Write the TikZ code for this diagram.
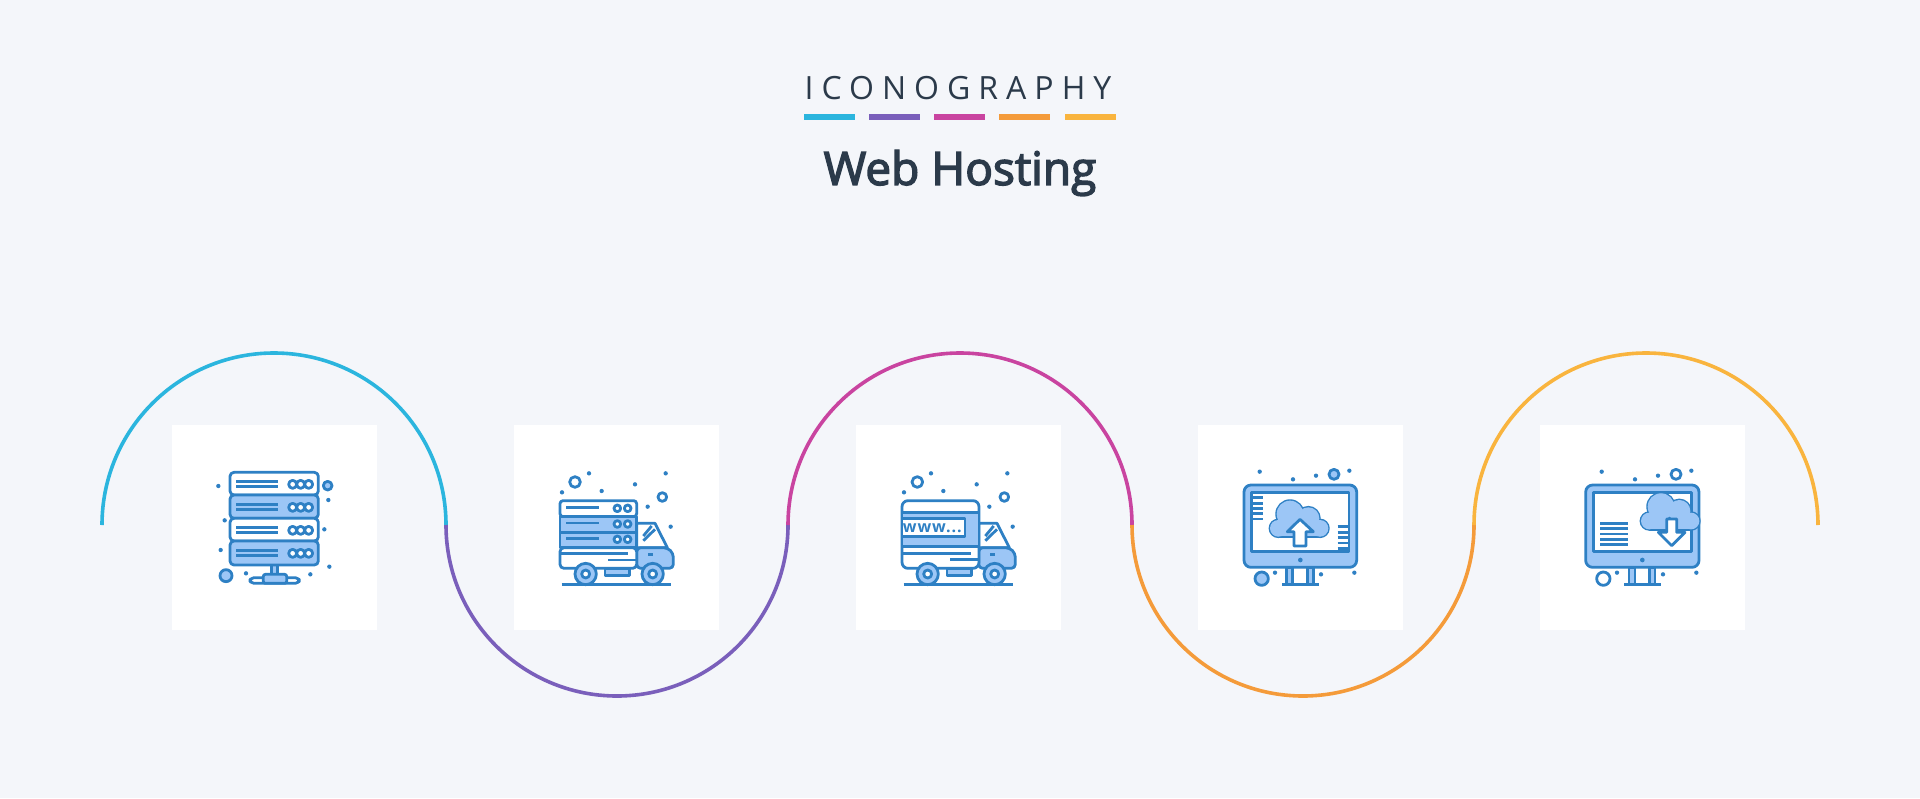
\documentclass[tikz,border=0pt]{standalone}
\usepackage{fontspec}
\setmainfont{Open Sans}
\definecolor{pagebg}{HTML}{F4F6FA}
\definecolor{inkdark}{HTML}{2B3A4A}
\definecolor{iconline}{HTML}{2E80C4}
\definecolor{iconfill}{HTML}{9CC6F6}
\definecolor{stepa}{HTML}{2BB5DE}
\definecolor{stepb}{HTML}{7A5FBB}
\definecolor{stepc}{HTML}{C944A0}
\definecolor{stepd}{HTML}{F49B3A}
\definecolor{stepe}{HTML}{F9B43E}
\tikzset{
  card/.style={fill=white},
  wave/.style={line width=3.6pt},
  stroke/.style={draw=iconline,line width=2.8pt,line join=round},
  blue/.style={stroke,fill=iconfill},
  plain/.style={stroke,fill=white},
  icon/.style={scale=1/3},
}
% dots of one icon: radius in zoomed units
\newcommand{\specks}[1]{\foreach \x/\y in {#1} \fill[iconline] (\x,\y) circle (6.5);}
\newcommand{\truckcab}{
  \draw[plain] (290,220) -- (345,220) -- (382,293) -- (290,293) -- cycle;
  \draw[blue,rounded corners=4pt] (290,293) -- (382,293) -- (400,310) -- (400,355) -- (290,355) -- cycle;
  \draw[stroke] (310,258) -- (335,228);
  \draw[stroke] (310,272) -- (345,238);
  \draw[stroke] (325,313) -- (340,313);
  \draw[blue] (195,355) rectangle (268,377);
  \draw[stroke] (65,403) -- (393,403);
}
\newcommand{\truckwheels}[1]{
  \foreach \x in {#1} {
    \draw[blue] (\x,372) circle (32);
    \draw[plain] (\x,372) circle (12);
  }
}
\newcommand{\cloudshape}{
  \foreach \x/\y/\r in {175/235/25,210/192/40,265/205/33,300/235/25}
    \draw[blue] (\x,\y) circle (\r);
  \draw[blue] (175,235) rectangle (300,260);
  \foreach \x/\y/\r in {175/235/25,210/192/40,265/205/33,300/235/25}
    \fill[iconfill] (\x,\y) circle (\r);
  \fill[iconfill] (175,225) rectangle (300,258);
}
\begin{document}
\begin{tikzpicture}[x=1pt,y=-1pt]
  \useasboundingbox (0,0) rectangle (1920,798);
  \fill[pagebg] (0,0) rectangle (1920,798);
  % heading
  \node[text=inkdark,font=\fontsize{32}{32}\selectfont\addfontfeature{LetterSpace=25}] (kicker) at (958,88) {ICONOGRAPHY};
  \node[text=inkdark,font=\fontsize{46}{46}\selectfont\addfontfeature{FakeBold=3}] (title) at (960,173) {Web Hosting};
  \foreach \x/\c in {804/stepa,869/stepb,934/stepc,999/stepd,1065/stepe}
    \fill[\c] (\x,114) rectangle ++(51,6);
  % waves
  \coordinate (W0) at (102,525);
  \coordinate (W1) at (446,525);
  \coordinate (W2) at (788,525);
  \coordinate (W3) at (1132,525);
  \coordinate (W4) at (1474,525);
  \draw[wave,stepa] (W0) arc[start angle=180,end angle=360,radius=172];
  \draw[wave,stepb] (W1) arc[start angle=180,end angle=0,radius=171];
  \draw[wave,stepc] (W2) arc[start angle=180,end angle=360,radius=172];
  \draw[wave,stepd] (W3) arc[start angle=180,end angle=0,radius=171];
  \draw[wave,stepe] (W4) arc[start angle=180,end angle=360,radius=172];
  % cards
  \foreach \x in {172,514,856,1198,1540}
    \fill[card] (\x,425) rectangle ++(205,205);
  % server rack
  \begin{scope}[shift={(190,440)},icon]
    \draw[blue] (245,372) rectangle (262,403);
    \draw[plain,rounded corners=4pt] (180,413) rectangle (328,430);
    \draw[blue,rounded corners=2pt] (220,403) rectangle (290,430);
    \draw[plain,rounded corners=4pt] (120,97) rectangle (385,165);
    \draw[blue,rounded corners=4pt] (120,165) rectangle (385,235);
    \draw[plain,rounded corners=4pt] (120,235) rectangle (385,303);
    \draw[blue,rounded corners=4pt] (120,303) rectangle (385,375);
    \foreach \y in {133,202,271,340} {
      \draw[stroke] (138,\y-8) -- (263,\y-8);
      \draw[stroke] (138,\y+7) -- (263,\y+7);
      \foreach \x in {308,332,356}
        \draw[plain] (\x,\y) circle (12);
    }
    \draw[blue] (413,137) circle (13);
    \draw[blue] (108,407) circle (18);
    \specks{85/138,415/180,104/241,403/268,92/330,418/380,168/400,361/403}
  \end{scope}
  % truck with rack
  \begin{scope}[shift={(540,450)},icon]
    \truckcab
    \draw[plain,rounded corners=4pt] (60,293) rectangle (290,355);
    \draw[plain,rounded corners=3pt] (60,152) rectangle (290,200);
    \draw[blue] (60,200) rectangle (290,247);
    \draw[blue] (60,247) rectangle (290,293);
    \foreach \y in {175,222,268} {
      \draw[stroke] (78,\y-3) -- (178,\y-3);
      \foreach \x in {232,263}
        \draw[plain] (\x,\y) circle (10);
    }
    \draw[stroke] (62,310) -- (265,310);
    \draw[stroke] (205,330) -- (288,330);
    \truckwheels{137,338}
    \draw[stroke] (105,96) circle (16);
    \draw[stroke] (367,141) circle (13);
    \specks{147/70,377/70,66/127,185/123,285/103,323/170,392/230}
  \end{scope}
  % truck with address
  \begin{scope}[shift={(880,450)},icon]
    \begin{scope}[shift={(6,0)}]
      \truckcab
    \end{scope}
    \draw[plain,rounded corners=6pt] (66,152) -- (297,152) -- (297,355) -- (66,355) -- cycle;
    \draw[blue] (66,187) rectangle (297,290);
    \draw[plain] (66,205) rectangle (255,260);
    \node[text=iconline,font=\fontsize{16}{16}\selectfont\bfseries\addfontfeature{LetterSpace=6}] (www) at (157,236) {www...};
    \draw[stroke] (68,310) -- (272,310);
    \draw[stroke] (210,328) -- (295,328);
    \truckwheels{143,344}
    \draw[stroke] (112,96) circle (16);
    \draw[stroke] (373,141) circle (13);
    \specks{153/70,382/70,72/127,190/123,290/103,328/170,398/230}
  \end{scope}
  % monitor, cloud upload
  \begin{scope}[shift={(1220,450)},icon]
    \draw[blue] (200,352) rectangle (218,403);
    \draw[blue] (262,352) rectangle (280,403);
    \draw[stroke] (187,403) -- (297,403);
    \draw[blue,rounded corners=7pt] (72,105) rectangle (410,352);
    \draw[plain] (95,128) rectangle (387,305);
    \fill[iconline] (241,330) circle (7);
    \foreach \y in {143,160,176,191,207}
      \draw[stroke] (95,\y) -- (128,\y);
    \foreach \y in {230,247,263,279,295}
      \draw[stroke] (353,\y) -- (385,\y);
    \cloudshape
    \draw[plain] (240,208) -- (202,245) -- (222,245) -- (222,288) -- (258,288) -- (258,245) -- (280,245) -- cycle;
    \draw[blue] (125,386) circle (20);
    \draw[blue] (342,73) circle (15);
    \specks{119/65,219/88,288/77,388/62,165/368,303/373,403/368}
  \end{scope}
  % monitor, cloud download
  \begin{scope}[shift={(1565,450)},icon]
    \draw[blue] (192,352) rectangle (210,403);
    \draw[blue] (253,352) rectangle (270,403);
    \draw[stroke] (178,403) -- (288,403);
    \draw[blue,rounded corners=7pt] (62,105) rectangle (402,352);
    \draw[plain] (85,128) rectangle (380,305);
    \fill[iconline] (232,330) circle (7);
    \foreach \y in {220,236,252,268,284}
      \draw[stroke] (105,\y) -- (188,\y);
    \begin{scope}[shift={(78,-22)}]
      \cloudshape
    \end{scope}
    \draw[plain] (305,207) -- (335,207) -- (335,247) -- (360,247) -- (320,287) -- (280,247) -- (305,247) -- cycle;
    \draw[stroke] (115,386) circle (20);
    \draw[stroke] (333,73) circle (15);
    \specks{110/65,210/88,279/77,379/62,156/368,294/373,394/368}
  \end{scope}
\end{tikzpicture}
\end{document}
